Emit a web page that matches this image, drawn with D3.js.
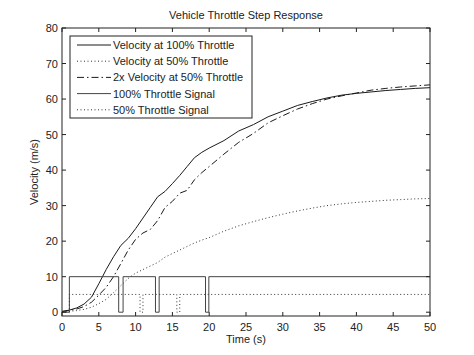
<!DOCTYPE html>
<html><head><meta charset="utf-8">
<script src="https://cdn.jsdelivr.net/npm/d3@7"></script>
<style>
body{margin:0;background:#fff;}
svg text{font-family:"Liberation Sans",Arial,sans-serif;fill:#222;}
</style></head>
<body><svg id="c" width="474" height="355"></svg>
<script>
const time = [0,1,2,3,4,5,6,7,8,9,10,11,12,13,14,15,16,17,18,19,20,22,24,26,28,30,32,34,36,38,40,42,44,46,48,50];
const vel100 = [0.2,0.6,1.2,2.3,4.2,8.0,12.0,15.6,18.8,20.8,23.5,26.5,29.5,32.5,34.0,36.2,38.5,41.0,43.5,45.0,46.2,48.3,51.0,52.8,55.0,56.6,58.2,59.3,60.3,61.1,61.6,62.0,62.4,62.7,63.0,63.2];
const vel50 = [0.1,0.25,0.45,0.8,1.4,2.4,3.6,5.5,7.5,9.5,11.0,12.0,13.0,14.0,15.5,16.5,17.5,18.5,19.5,20.3,21.0,22.8,24.3,25.5,26.6,27.6,28.5,29.3,30.0,30.5,30.9,31.2,31.5,31.7,31.9,32.0];
const vel2x50 = [0.2,0.5,0.9,1.6,2.8,4.8,7.0,10.0,13.7,17.5,20.5,22.3,23.3,25.8,29.5,31.2,33.5,34.3,37.3,39.3,41.0,44.5,47.8,50.3,53.3,55.3,57.2,58.7,60.0,60.9,61.7,62.5,63.0,63.4,63.7,64.0];
const sig100T = [0,1,1,7.7,7.7,8.3,8.3,12.7,12.7,13.2,13.2,19.5,19.5,19.95,19.95,50];
const sig100V = [0,0,10,10,0,0,10,10,0,0,10,10,0,0,10,10];
const sig50T = [0,1,1,10.6,10.6,11.0,11.0,15.6,15.6,16.0,16.0,50];
const sig50V = [0,0,5,5,0,0,5,5,0,0,5,5];
const xTicks = [0,5,10,15,20,25,30,35,40,45,50];
const yTicks = [0,10,20,30,40,50,60,70,80];
const legendLabels = ["Velocity at 100% Throttle","Velocity at 50% Throttle","2x Velocity at 50% Throttle","100% Throttle Signal","50% Throttle Signal"];

const svg = d3.select("#c");
const L=62,R=430,T=28,B=316;
const x = d3.scaleLinear().domain([0,50]).range([L,R]);
const y = d3.scaleLinear().domain([-1.07,80]).range([B,T]);

const line = d3.line().x(d=>x(d[0])).y(d=>y(d[1]));
const zip=(a,b)=>a.map((v,i)=>[v,b[i]]);

const series = [
  {d:zip(time,vel100), dash:null, c:"#1a1a1a"},
  {d:zip(time,vel50), dash:"1,2.5", c:"#333"},
  {d:zip(time,vel2x50), dash:"7,3,1.5,3", c:"#1a1a1a"},
  {d:zip(sig100T,sig100V), dash:null, c:"#444"},
  {d:zip(sig50T,sig50V), dash:"1,2.5", c:"#333"}
];
series.forEach(s=>{
  svg.append("path").attr("d",line(s.d)).attr("fill","none")
    .attr("stroke",s.c).attr("stroke-width",1)
    .attr("stroke-dasharray",s.dash);
});

// axes box
svg.append("rect").attr("x",L).attr("y",T).attr("width",R-L).attr("height",B-T)
  .attr("fill","none").attr("stroke","#222").attr("stroke-width",1);

const tl=4;
const ax = svg.append("g");
xTicks.forEach(t=>{
  ax.append("line").attr("x1",x(t)).attr("x2",x(t)).attr("y1",B).attr("y2",B-tl).attr("stroke","#222");
  ax.append("line").attr("x1",x(t)).attr("x2",x(t)).attr("y1",T).attr("y2",T+tl).attr("stroke","#222");
  ax.append("text").attr("x",x(t)).attr("y",B+15).attr("text-anchor","middle").attr("font-size",11).text(t);
});
yTicks.forEach(t=>{
  ax.append("line").attr("x1",L).attr("x2",L+tl).attr("y1",y(t)).attr("y2",y(t)).attr("stroke","#222");
  ax.append("line").attr("x1",R).attr("x2",R-tl).attr("y1",y(t)).attr("y2",y(t)).attr("stroke","#222");
  ax.append("text").attr("x",L-4).attr("y",y(t)+4).attr("text-anchor","end").attr("font-size",11).text(t);
});

svg.append("text").attr("x",(L+R)/2).attr("y",19).attr("text-anchor","middle").attr("font-size",11).text("Vehicle Throttle Step Response");
svg.append("text").attr("x",(L+R)/2).attr("y",343).attr("text-anchor","middle").attr("font-size",11).text("Time (s)");
svg.append("text").attr("transform",`translate(38,${(T+B)/2}) rotate(-90)`).attr("text-anchor","middle").attr("font-size",11).text("Velocity (m/s)");

// legend
const lg = svg.append("g");
lg.append("rect").attr("x",70).attr("y",36).attr("width",182).attr("height",82)
  .attr("fill","#fff").attr("stroke","#222").attr("stroke-width",1);
legendLabels.forEach((lab,i)=>{
  const yy = 45 + i*16.2;
  lg.append("line").attr("x1",77).attr("x2",111).attr("y1",yy).attr("y2",yy)
    .attr("stroke",series[i].c).attr("stroke-width",1).attr("stroke-dasharray",series[i].dash);
  lg.append("text").attr("x",113).attr("y",yy+4).attr("font-size",11).text(lab);
});
</script></body></html>
